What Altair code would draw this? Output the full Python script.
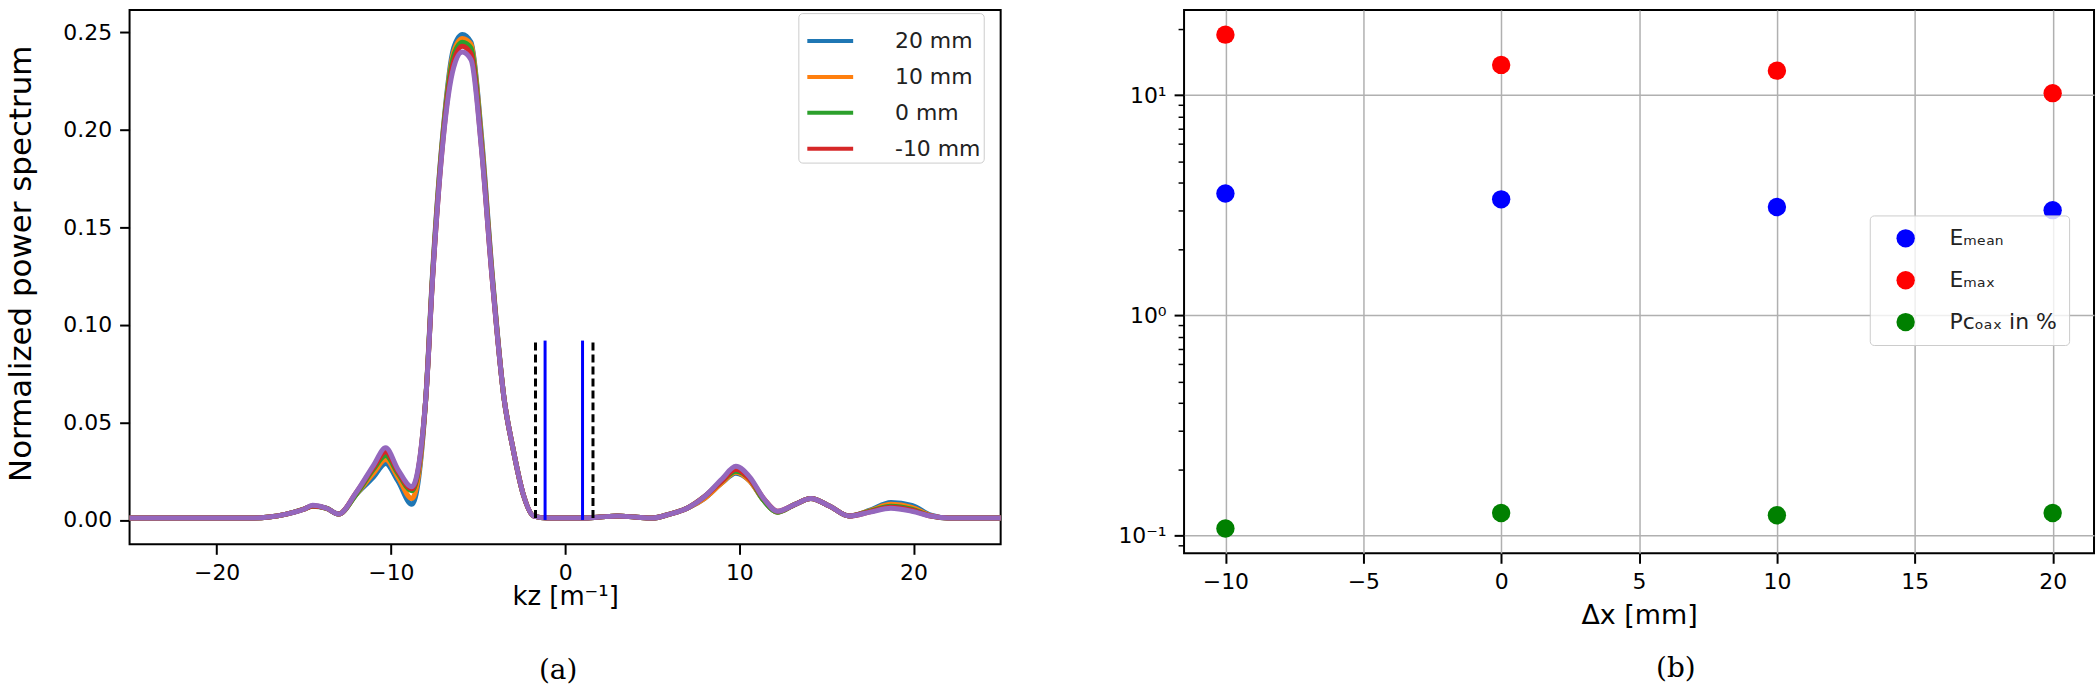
import altair as alt
import pandas as pd

# ---------------- panel (a): normalized power spectrum ----------------
kz = [-25, -18, -17, -16, -15, -14.5, -13.7, -13.0, -12, -11, -10.3, -9.6, -8.8, -8.0, -7.6,
      -7.0, -6.4, -5.9, -5.4, -4.8, -4.2, -3.5, -3.0, -2.4, -1.8, -1.0, 1.0, 2.0, 3.0, 4.0,
      5.0, 6.0, 7.0, 8.0, 9.0, 9.8, 10.6, 11.4, 12.2, 13.2, 14.1, 15.2, 16.3, 17.5, 18.7,
      19.9, 21.0, 22.0, 25.0]

p_20 = [0.001, 0.001, 0.0015, 0.003, 0.0055, 0.0072, 0.006, 0.003, 0.013, 0.022, 0.029, 0.020, 0.008, 0.062, 0.128,
        0.200, 0.242, 0.249, 0.245, 0.197, 0.128, 0.062, 0.037, 0.013, 0.002, 0.001, 0.001, 0.0015, 0.002, 0.0015,
        0.001, 0.003, 0.006, 0.011, 0.019, 0.024, 0.020, 0.010, 0.004, 0.008, 0.011, 0.007, 0.002, 0.005, 0.009,
        0.0075, 0.0025, 0.001, 0.001]
p_10 = [0.001, 0.001, 0.0015, 0.003, 0.0055, 0.0071, 0.006, 0.003, 0.013, 0.024, 0.031, 0.022, 0.011, 0.062, 0.127,
        0.199, 0.240, 0.247, 0.244, 0.195, 0.127, 0.062, 0.037, 0.013, 0.002, 0.001, 0.001, 0.0015, 0.002, 0.0015,
        0.001, 0.003, 0.006, 0.011, 0.019, 0.0245, 0.020, 0.010, 0.004, 0.008, 0.011, 0.007, 0.002, 0.0048, 0.008,
        0.0065, 0.0022, 0.001, 0.001]
p_0 = [0.001, 0.001, 0.0015, 0.003, 0.0055, 0.007, 0.006, 0.003, 0.013, 0.026, 0.033, 0.024, 0.015, 0.062, 0.126,
       0.198, 0.238, 0.245, 0.242, 0.193, 0.126, 0.062, 0.037, 0.013, 0.002, 0.001, 0.001, 0.0015, 0.002, 0.0015,
       0.001, 0.003, 0.006, 0.012, 0.020, 0.025, 0.021, 0.010, 0.004, 0.008, 0.011, 0.007, 0.002, 0.0045, 0.007,
       0.0055, 0.002, 0.001, 0.001]
p_m10 = [0.001, 0.001, 0.0015, 0.003, 0.0055, 0.0072, 0.006, 0.003, 0.014, 0.027, 0.035, 0.025, 0.016, 0.062, 0.125,
         0.196, 0.235, 0.243, 0.239, 0.191, 0.125, 0.062, 0.037, 0.013, 0.002, 0.001, 0.001, 0.0015, 0.002, 0.0015,
         0.001, 0.003, 0.006, 0.012, 0.020, 0.026, 0.021, 0.011, 0.0045, 0.008, 0.011, 0.007, 0.002, 0.0042, 0.0065,
         0.005, 0.002, 0.001, 0.001]
p_m20 = [0.001, 0.001, 0.0015, 0.003, 0.0055, 0.0075, 0.006, 0.003, 0.014, 0.028, 0.037, 0.026, 0.017, 0.062, 0.125,
         0.195, 0.232, 0.240, 0.236, 0.190, 0.125, 0.062, 0.037, 0.013, 0.002, 0.001, 0.001, 0.0015, 0.002, 0.0015,
         0.001, 0.003, 0.006, 0.012, 0.021, 0.0275, 0.022, 0.011, 0.0045, 0.008, 0.011, 0.007, 0.002, 0.004, 0.006,
         0.0045, 0.002, 0.001, 0.001]

series_names = ["20 mm", "10 mm", "0 mm", "-10 mm", "-20 mm"]
series_colors = ["#1f77b4", "#ff7f0e", "#2ca02c", "#d62728", "#9467bd"]
legend_names = ["20 mm", "10 mm", "0 mm", "-10 mm"]

dashed_k = [-1.7, 1.6]
solid_k = [-1.15, 1.0]
marker_bottom = [0.001, 0.0]
marker_top = 0.092

# ---------------- panel (b): field values vs offset ----------------
dx_mm = [-10, 0, 10, 20]
e_mean = [3.57, 3.36, 3.10, 3.00]
e_max = [18.8, 13.7, 12.9, 10.2]
p_coax = [0.1076, 0.1265, 0.1236, 0.1265]
b_names = ["Eₘₑₐₙ", "Eₘₐₓ", "Pᴄₒₐₓ in %"]
b_colors = ["#0000ff", "#ff0000", "#008000"]

# ---------------- build tables ----------------
rows = []
for name, vals in zip(series_names, [p_20, p_10, p_0, p_m10, p_m20]):
    for k, v in zip(kz, vals):
        rows.append({"kz": k, "P": v, "series": name})
df_a = pd.DataFrame(rows)

df_dash = pd.DataFrame({"k": dashed_k, "y0": [marker_bottom[0]] * 2, "y1": [marker_top] * 2})
df_solid = pd.DataFrame({"k": solid_k, "y0": [marker_bottom[1]] * 2, "y1": [marker_top] * 2})

rows_b = []
for name, vals in zip(b_names, [e_mean, e_max, p_coax]):
    for x, v in zip(dx_mm, vals):
        rows_b.append({"dx": x, "val": v, "series": name})
df_b = pd.DataFrame(rows_b)

FONT = "DejaVu Sans"

xs_a = alt.Scale(domain=[-25, 25], nice=False, zero=False)
ys_a = alt.Scale(domain=[-0.0125, 0.2615], nice=False, zero=False)
color_a = alt.Scale(domain=series_names, range=series_colors)

legend_a = alt.Legend(
    title=None, orient="none", legendX=671, legendY=3,
    values=legend_names, symbolType="stroke", symbolSize=2116, symbolStrokeWidth=4,
    symbolOffset=4,
    labelFont=FONT, labelFontSize=22, labelColor="#222222", labelOffset=40, rowPadding=-11,
    padding=3, strokeColor="#cccccc", fillColor="rgba(255,255,255,0.8)", cornerRadius=4,
)

x_axis_a = alt.Axis(title="kz [m⁻¹]", values=[-20, -10, 0, 10, 20], grid=False,
                    titlePadding=0, titleFontSize=26)
y_axis_a = alt.Axis(title="Normalized power spectrum", values=[0, 0.05, 0.1, 0.15, 0.2, 0.25],
                    format=".2f", grid=False, titleFontSize=31, titlePadding=25, titleY=254)

base_a = alt.Chart(df_a)
line_layers = []
for name in series_names:
    line_layers.append(
        base_a.transform_filter(alt.datum.series == name)
        .mark_line(strokeWidth=5, interpolate="monotone")
        .encode(
            x=alt.X("kz:Q", scale=xs_a, axis=x_axis_a),
            y=alt.Y("P:Q", scale=ys_a, axis=y_axis_a),
            color=alt.Color("series:N", scale=color_a, legend=legend_a),
        )
    )

dash_rules = alt.Chart(df_dash).mark_rule(color="black", strokeWidth=3, strokeDash=[8, 4]).encode(
    x=alt.X("k:Q", scale=xs_a), y=alt.Y("y0:Q", scale=ys_a), y2="y1:Q")
solid_rules = alt.Chart(df_solid).mark_rule(color="#0000ff", strokeWidth=3).encode(
    x=alt.X("k:Q", scale=xs_a), y=alt.Y("y0:Q", scale=ys_a), y2="y1:Q")

panel_a = alt.layer(*line_layers, dash_rules, solid_rules).properties(
    width=874, height=536,
    title=alt.TitleParams("(a)", orient="bottom", font="DejaVu Serif", fontSize=28,
                          fontWeight="normal", anchor="middle", frame="group", dx=-7,
                          offset=48, color="black"),
)

# panel (b)
xs_b = alt.Scale(domain=[-11.5, 21.5], nice=False, zero=False)
ys_b = alt.Scale(type="log", domain=[0.083, 24.3], nice=False)
color_b = alt.Scale(domain=b_names, range=b_colors)

major = "indexof([0.1, 1, 10], datum.value) >= 0"
y_ticks_b = [0.09, 0.1, 0.2, 0.3, 0.4, 0.5, 0.6, 0.7, 0.8, 0.9, 1, 2, 3, 4, 5, 6, 7, 8, 9, 10, 20]

y_axis_b = alt.Axis(
    title=None, values=y_ticks_b,
    labelExpr="datum.value == 0.1 ? '10⁻¹' : datum.value == 1 ? '10⁰' : datum.value == 10 ? '10¹' : ''",
    grid=True,
    gridOpacity={"condition": {"test": major, "value": 1}, "value": 0},
    tickSize={"condition": {"test": major, "value": 10}, "value": 6},
    tickWidth={"condition": {"test": major, "value": 2}, "value": 1.5},
)
x_axis_b = alt.Axis(title="Δx [mm]", values=[-10, -5, 0, 5, 10, 15, 20], grid=True)

legend_b = alt.Legend(
    title=None, orient="none", legendX=688, legendY=206,
    symbolType="circle", symbolSize=340, symbolStrokeWidth=0, symbolOffset=13,
    labelFont=FONT, labelFontSize=22, labelColor="#222222", labelOffset=33, rowPadding=20,
    padding=12, strokeColor="#cccccc", fillColor="rgba(255,255,255,0.8)", cornerRadius=4,
)

panel_b = alt.Chart(df_b).mark_circle(size=340, opacity=1).encode(
    x=alt.X("dx:Q", scale=xs_b, axis=x_axis_b),
    y=alt.Y("val:Q", scale=ys_b, axis=y_axis_b),
    color=alt.Color("series:N", scale=color_b, legend=legend_b, sort=b_names),
).properties(
    width=913, height=545,
    title=alt.TitleParams("(b)", orient="bottom", font="DejaVu Serif", fontSize=28,
                          fontWeight="normal", anchor="middle", frame="group", dx=37,
                          offset=27, color="black"),
)

chart = alt.hconcat(panel_a, panel_b, spacing=105).resolve_scale(
    color="independent"
).resolve_legend(
    color="independent"
).properties(
    padding={"left": 5, "top": 8, "right": 5, "bottom": 0},
    background="white",
).configure_view(
    stroke="black", strokeWidth=2
).configure_axis(
    labelFont=FONT, labelFontSize=22, labelColor="black", labelPadding=8,
    titleFont=FONT, titleFontSize=27, titleFontWeight="normal", titleColor="black", titlePadding=10,
    domain=False, tickColor="black", tickWidth=2, tickSize=10,
    gridColor="#b0b0b0", gridWidth=1.5,
)

chart.save("out.html", embed_options={"renderer": "svg", "actions": False})
